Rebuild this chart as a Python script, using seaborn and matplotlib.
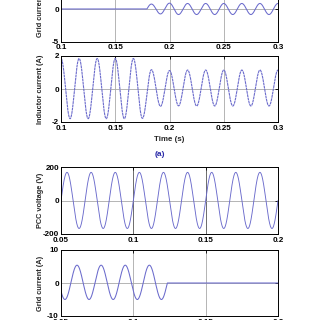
import numpy as np
import pandas as pd
import matplotlib
matplotlib.use("Agg")
import matplotlib.pyplot as plt
import seaborn as sns

# ---------------- data ----------------
HALF = 1.0 / 120.0  # half period of the 60 Hz waveforms (s)

# (1) grid current, top panel: zero until switch-on, then half-cycle extrema
grid1_t_on = 0.1792
grid1_first_ext = 0.1750
grid1_ext = [-0.76, 0.76, -0.76, 0.90, -0.85, 0.85, -0.85, 0.85, -0.85,
             0.85, -0.85, 0.85, -0.85, 0.85, -0.85, 0.85, -0.85]

# (2) inductor current: half-cycle extrema
ind_first_ext = 0.0917
ind_ext = [-1.80, 1.85, -1.80, 1.85, -1.80, 1.85, -1.80, 1.85, -1.80,
           1.85, -1.78, 1.17, -1.05, 1.12, -1.02, 1.15, -1.03, 1.15,
           -1.03, 1.15, -1.03, 1.15, -1.03, 1.15, -1.03, 1.15, -1.03]

# (3) PCC voltage: half-cycle extrema
pcc_first_ext = 0.04583
pcc_ext = [-167, 168, -167, 168, -167, 168, -167, 168, -167, 168, -167,
           168, -167, 168, -167, 168, -167, 168, -167, 168, -167]

# (4) grid current, bottom panel: extrema until switch-off, then zero
grid2_first_ext = 0.0444
grid2_t_off = 0.1235
grid2_ext = [5.3, -5.0, 5.4, -5.0, 5.4, -5.0, 5.4, -5.0, 5.4, -5.0, 5.4]

# axes texts
top_xticks = [0.1, 0.15, 0.2, 0.25, 0.3]
top_xticklabels = ["0.1", "0.15", "0.2", "0.25", "0.3"]
bot_xticks = [0.05, 0.1, 0.15, 0.2]
bot_xticklabels = ["0.05", "0.1", "0.15", "0.2"]
grid1_yticks = [-5, 0, 5]
ind_yticks = [-2, 0, 2]
pcc_yticks = [-200, 0, 200]
grid2_yticks = [-10, 0, 10]
label_grid = "Grid current (A)"
label_ind = "Inductor current (A)"
label_pcc = "PCC voltage (V)"
label_time = "Time (s)"
label_a = "(a)"


def wave(t, first, ext):
    """Smooth 60 Hz waveform passing through the read half-cycle extrema."""
    ext = np.asarray(ext, dtype=float)
    et = first + HALF * np.arange(len(ext))
    idx = np.clip(np.searchsorted(et, t, side="right") - 1, 0, len(ext) - 2)
    s = (t - et[idx]) / HALF
    v0, v1 = ext[idx], ext[idx + 1]
    return (v0 + v1) / 2 + (v0 - v1) / 2 * np.cos(np.pi * s)


t_top = np.linspace(0.1, 0.3, 3001)
g1 = wave(t_top, grid1_first_ext, grid1_ext)
g1[t_top < grid1_t_on] = 0.0
ind = wave(t_top, ind_first_ext, ind_ext)

t_bot = np.linspace(0.05, 0.2, 3001)
pcc = wave(t_bot, pcc_first_ext, pcc_ext)
g2 = wave(t_bot, grid2_first_ext, grid2_ext)
g2[t_bot > grid2_t_off] = 0.0

# ---------------- styling ----------------
sns.set_style("white")
plt.rcParams["font.family"] = ["Liberation Sans", "DejaVu Sans"]
plt.rcParams["font.weight"] = "bold"
plt.rcParams["axes.unicode_minus"] = False

LINE = "#6b6bcc"
GRIDC = "#a8a8a8"
FS = 5.8

fig = plt.figure(figsize=(3.2, 3.2), dpi=100)
fig.patch.set_facecolor("white")

W = 320.0
left = 61 / W
width = 217 / W


def make_ax(top_px, bot_px):
    return fig.add_axes([left, 1 - bot_px / W, width, (bot_px - top_px) / W])


ax1 = make_ax(-23.5, 41.5)
ax2 = make_ax(56, 122)
ax3 = make_ax(167, 234)
ax4 = make_ax(250, 316)

sns.lineplot(x=t_top, y=g1, ax=ax1, color=LINE, linewidth=0.75)
sns.lineplot(x=t_top, y=ind, ax=ax2, color=LINE, linewidth=0.8,
             linestyle=(0, (2.5, 0.5)))
sns.lineplot(x=t_bot, y=pcc, ax=ax3, color=LINE, linewidth=0.65)
sns.lineplot(x=t_bot, y=g2, ax=ax4, color=LINE, linewidth=0.75)

specs = [
    (ax1, (0.1, 0.3), top_xticks, top_xticklabels, (-5, 5), grid1_yticks, label_grid, GRIDC),
    (ax2, (0.1, 0.3), top_xticks, top_xticklabels, (-2, 2), ind_yticks, label_ind, GRIDC),
    (ax3, (0.05, 0.2), bot_xticks, bot_xticklabels, (-200, 200), pcc_yticks, label_pcc, "#555555"),
    (ax4, (0.05, 0.2), bot_xticks, bot_xticklabels, (-10, 10), grid2_yticks, label_grid, GRIDC),
]

for ax, xl, xt, xtl, yl, yt, ylab, vgc in specs:
    ax.set_xlim(*xl)
    ax.set_ylim(*yl)
    ax.set_xticks(xt)
    ax.set_xticklabels(xtl)
    ax.set_yticks(yt)
    ax.set_yticklabels([str(v) for v in yt])
    ax.set_xlabel("")
    ax.set_ylabel(ylab, fontsize=5.3, fontweight="bold")
    ax.yaxis.set_label_coords(-0.078, 0.5)
    for x in xt[1:-1]:
        ax.axvline(x, color=vgc, linewidth=0.6, zorder=0)
    ax.axhline(0, color=GRIDC, linewidth=0.6, zorder=0)
    ax.tick_params(direction="in", length=2, width=0.6, top=True, right=True,
                   labelsize=FS, colors="black")
    ax.tick_params(axis="x", pad=2)
    ax.tick_params(axis="y", pad=1.5)
    for lab in ax.get_xticklabels() + ax.get_yticklabels():
        lab.set_fontweight("bold")
    for sp in ax.spines.values():
        sp.set_visible(True)
        sp.set_color("black")
        sp.set_linewidth(0.7)
    ax.set_facecolor("white")

ax2.set_xlabel(label_time, fontsize=5.7, fontweight="bold", labelpad=3)
fig.text(0.5, 1 - 155 / W, label_a, ha="center", va="center",
         fontsize=6, fontweight="bold", color="#2a2aa8")

fig.savefig("out.png", dpi=100)
